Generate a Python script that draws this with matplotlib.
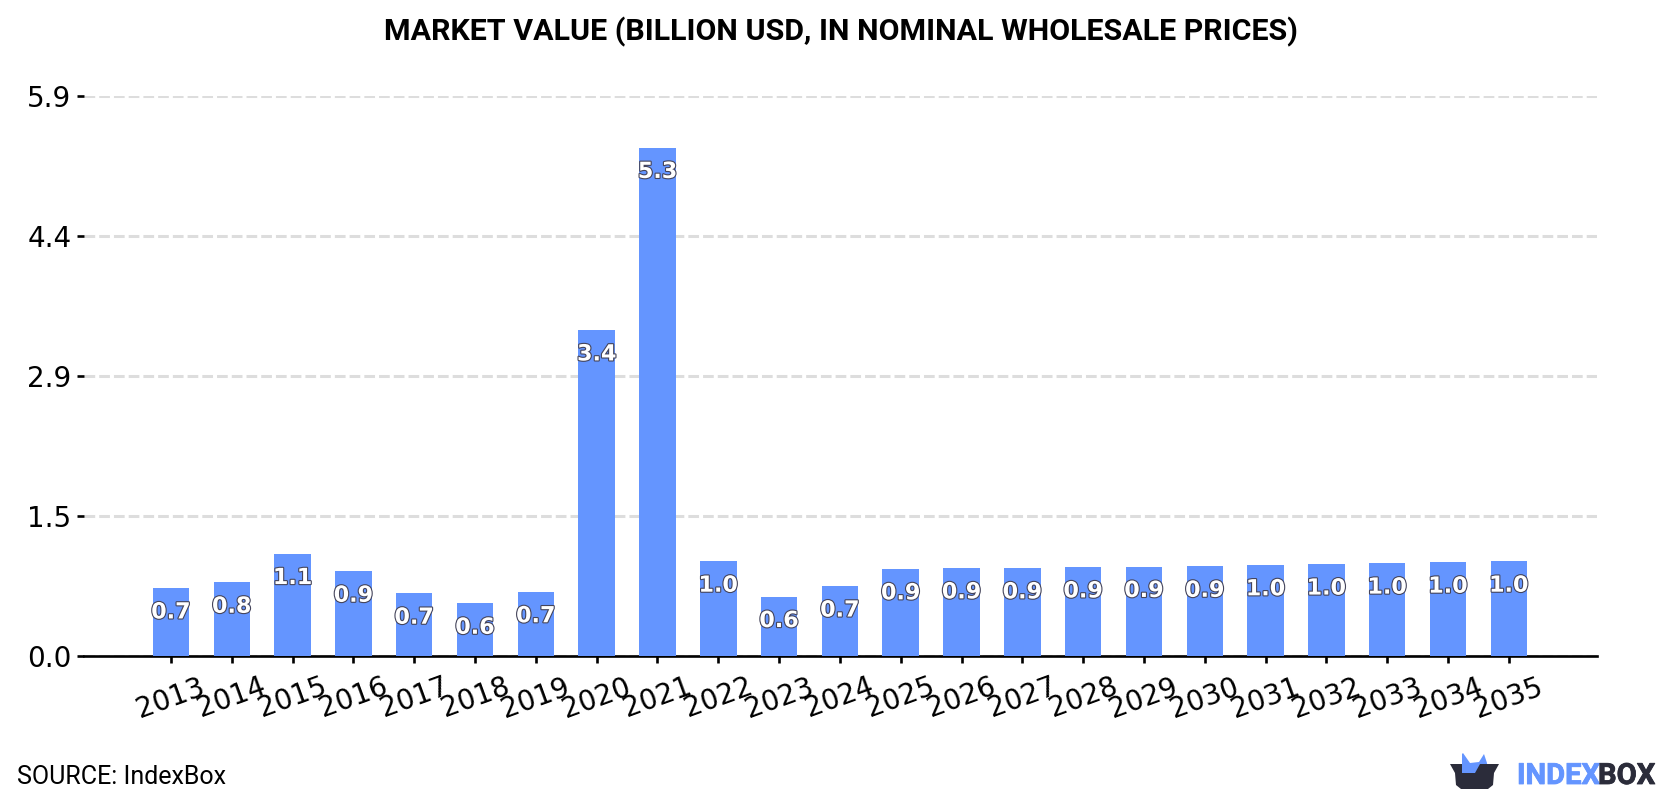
import matplotlib
matplotlib.use("Agg")
import matplotlib.pyplot as plt
import matplotlib.patheffects as pe
from matplotlib.patches import Polygon

years = list(range(2013, 2036))
values = [0.71, 0.77, 1.07, 0.885, 0.655, 0.55, 0.67, 3.41, 5.32, 0.99, 0.62, 0.73,
          0.91, 0.92, 0.92, 0.93, 0.935, 0.937, 0.952, 0.96, 0.97, 0.98, 0.99]
yticks = [0.0, 1.465, 2.93, 4.395, 5.86]
ytick_labels = ["0.0", "1.5", "2.9", "4.4", "5.9"]

BLUE = "#6495ff"
DARK = "#2b2c3a"
W, H = 1680, 800

fig = plt.figure(figsize=(16.8, 8), dpi=100)
ax = fig.add_axes([84 / W, 1 - 656 / H, (1597 - 84) / W, (656 - 96) / H])

ax.bar(years, values, width=0.6, color=BLUE, zorder=3)
ax.set_xlim(2013 - 1.43, 2035 + 1.45)
ax.set_ylim(0, 5.86)

ax.set_xticks(years)
ax.set_xticklabels(years, rotation=20, ha="center", fontsize=20, family="DejaVu Sans")
ax.set_yticks(yticks)
ax.set_yticklabels(ytick_labels, fontsize=20, family="DejaVu Sans")
ax.tick_params(axis="x", length=5, width=1.9, pad=7)
ax.tick_params(axis="y", length=5, width=1.9, pad=4)

ax.grid(axis="y", color="#dddddd", linewidth=2.2, linestyle=(0, (3.5, 1.32)), zorder=1)
ax.set_axisbelow(True)
for side in ["top", "right", "left"]:
    ax.spines[side].set_visible(False)
ax.spines["bottom"].set_linewidth(1.9)

# value labels sit a fixed distance under the top of each bar
for year, value in zip(years, values):
    ax.annotate(f"{value:.1f}", (year, value), xytext=(0, -17.5), textcoords="offset points",
                ha="center", va="center", fontsize=16, fontweight="bold", family="DejaVu Sans",
                color="white", zorder=4,
                path_effects=[pe.withStroke(linewidth=1.6, foreground="#44445a")])

fig.text(0.5 + 1 / W, 1 - 32 / H, "MARKET VALUE (BILLION USD, IN NOMINAL WHOLESALE PRICES)",
         ha="center", va="center", fontsize=21.9, fontweight="bold", family="Roboto", color="black")
fig.text(17 / W, 1 - 777 / H, "SOURCE: IndexBox", ha="left", va="center", fontsize=18,
         family="Roboto", color="black")

# logo, laid out in pixel coordinates on a transparent overlay
logo = fig.add_axes([0, 0, 1, 1], zorder=5)
logo.set_xlim(0, W)
logo.set_ylim(H, 0)
logo.axis("off")
logo.patch.set_alpha(0)
logo.add_patch(Polygon([(1462, 754), (1463, 753), (1470, 763), (1479, 762), (1484, 754),
                        (1487, 763), (1488, 775), (1462, 775)], color=BLUE, lw=0))
logo.add_patch(Polygon([(1450, 764), (1462, 764), (1462, 773), (1475, 773), (1480, 764), (1499, 764),
                        (1494, 773), (1493, 785), (1488, 789), (1461, 789), (1456, 785), (1455, 773)],
                       color=DARK, lw=0))
logo.text(1517, 776, "INDEX", ha="left", va="center", fontsize=21, fontweight="bold",
          family="Roboto", color=BLUE,
          path_effects=[pe.withStroke(linewidth=0.6, foreground=BLUE)])
logo.text(1598, 776, "BOX", ha="left", va="center", fontsize=21, fontweight="bold",
          family="Roboto", color=DARK,
          path_effects=[pe.withStroke(linewidth=0.6, foreground=DARK)])

fig.savefig("out.png", dpi=100)
